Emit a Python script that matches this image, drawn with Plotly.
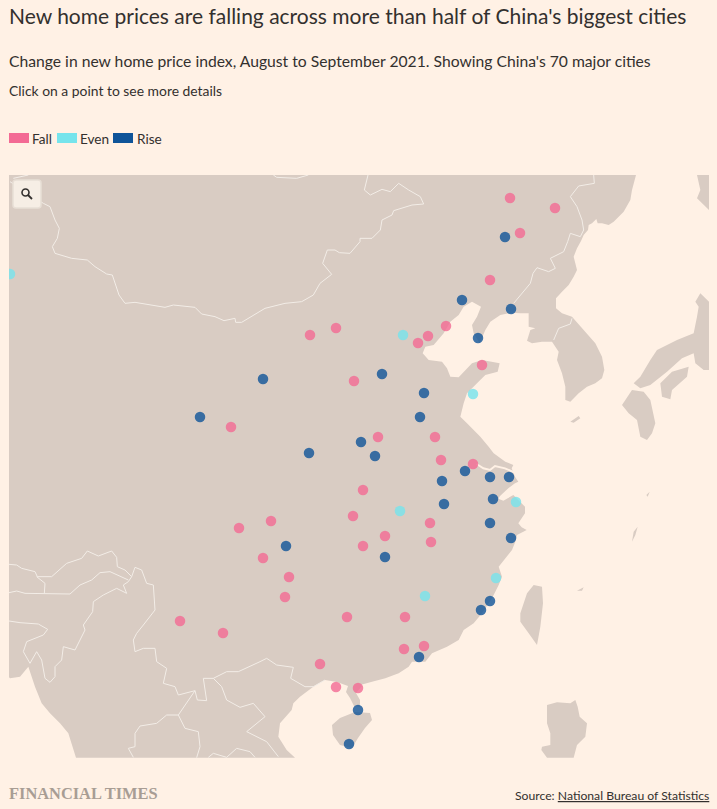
"""FT-style dot map: monthly change in new home prices, China's 70 major cities."""
import plotly.graph_objects as go

# city dots in page pixels
fall_x = [510, 555, 520, 490, 446, 428, 418, 482, 378, 435, 441, 473, 354, 310, 336, 231, 239, 271,
          353, 263, 289, 285, 180, 223, 347, 320, 336, 358, 363, 430, 385, 363, 431, 405, 404, 424]
fall_y = [198, 208, 233, 280, 326, 336, 343, 365, 437, 437, 460, 464, 381, 335, 328, 427, 528, 521,
          516, 558, 577, 597, 621, 633, 617, 664, 687, 688, 490, 523, 536, 546, 542, 617, 649, 646]
even_x = [403, 473, 10, 400, 516, 496, 425]
even_y = [335, 394, 274, 511, 502, 578, 596]
rise_x = [505, 462, 511, 478, 382, 424, 420, 361, 375, 465, 263, 200, 309, 286,
          358, 349, 442, 490, 509, 493, 444, 490, 511, 385, 490, 481, 419]
rise_y = [237, 300, 309, 338, 374, 393, 417, 442, 456, 471, 379, 417, 453, 546,
          710, 744, 481, 477, 477, 499, 504, 523, 538, 557, 601, 610, 657]

legend_labels = ["Fall", "Even", "Rise"]
legend_colors = ["#f36a94", "#76e4ec", "#0f5499"]

PAPER = "#fff1e5"
LAND = "#d9ccc3"
BORDER = "#f3ede7"
INK = "#33302e"
FONT = "Lato"
WIDTH, HEIGHT = 717, 809


def crop(points, dx, dy):
    # outlines were traced on 3x zoomed crops, this brings them back to page pixels
    return [(dx + x / 3, dy + y / 3) for x, y in points]


NE = (357, 170)
DELTA = (450, 440)
SE = (357, 470)
W = (0, 470)
NW = (0, 170)

mainland = (
    [(9, 175), (636, 175)]
    + crop([(825, 60), (820, 90), (800, 125), (770, 155), (755, 165), (735, 160), (722, 160), (718, 147),
            (705, 160), (695, 165), (693, 180), (680, 195), (672, 213), (660, 235), (650, 260), (655, 285),
            (660, 300), (650, 320), (635, 345), (615, 365), (597, 385), (597, 415), (615, 430), (645, 440),
            (680, 480), (715, 520), (735, 560), (742, 600), (735, 625), (715, 640), (690, 650), (665, 670),
            (640, 695), (625, 690), (625, 650), (615, 610), (600, 570), (605, 545), (585, 515), (555, 515),
            (525, 520), (510, 512), (520, 480), (535, 475), (515, 470), (515, 430), (490, 430), (465, 428),
            (430, 435), (400, 455), (385, 480), (368, 520), (350, 490), (345, 465), (360, 440), (372, 410),
            (345, 395), (320, 410), (305, 435), (280, 455), (260, 490), (230, 525), (205, 530), (197, 550),
            (215, 570), (255, 575), (270, 595), (280, 620), (305, 622), (325, 600), (345, 580), (375, 570),
            (400, 575), (428, 580), (422, 605), (385, 615), (360, 640), (330, 670), (320, 700), (310, 740),
            (330, 760), (370, 800), (395, 830), (410, 850), (445, 875)], *NE)
    + crop([(190, 75), (185, 85), (195, 110), (205, 125), (195, 130), (175, 145), (150, 168), (145, 176),
            (160, 182), (190, 165), (205, 180), (225, 200), (225, 220), (215, 235), (205, 250), (215, 262),
            (230, 270)], *DELTA)
    + crop([(480, 195), (475, 215), (465, 240), (440, 270), (425, 290), (435, 320), (425, 345), (405, 385),
            (375, 430), (350, 460), (320, 480), (305, 510), (270, 530), (225, 550), (205, 575), (165, 575),
            (155, 590), (125, 610), (85, 625), (45, 635), (10, 645)], *SE)
    + [(362, 686), (356, 693), (360, 700), (360, 707), (354, 706), (350, 698), (346, 692), (348, 686),
       (337, 682), (325, 680)]
    + crop([(940, 650), (900, 680), (880, 700), (875, 720), (840, 760), (835, 800), (860, 840), (885, 863),
            (228, 863), (205, 790), (180, 760), (150, 730), (125, 700), (105, 650), (85, 590), (60, 620),
            (30, 625), (27, 622)], *W)
)

islands = [
    [(332, 725), (340, 718), (355, 712), (370, 713), (372, 720), (365, 728), (358, 738), (352, 748),
     (340, 745), (333, 735)],
    crop([(510, 370), (530, 345), (555, 350), (558, 400), (550, 470), (540, 525), (515, 490), (490, 455),
          (490, 430)], *SE),
    crop([(570, 705), (600, 697), (640, 700), (655, 690), (662, 710), (668, 740), (690, 760), (685, 800),
          (660, 825), (650, 863), (570, 863), (553, 840), (555, 830), (580, 825), (580, 790), (570, 760)], *SE),
    crop([(825, 215), (830, 185), (842, 170), (835, 195)], *SE),
    crop([(868, 75), (878, 65), (872, 80)], *SE),
    crop([(660, 362), (680, 352), (675, 362)], *SE),
    # Japan and Jeju
    crop([(1020, 15), (1056, 15), (1056, 120), (1040, 105), (1020, 85), (1030, 60)], *NE),
    crop([(1056, 395), (1030, 370), (1015, 395), (1025, 410), (1020, 440), (1010, 490), (960, 510), (900, 540),
          (880, 570), (850, 620), (830, 640), (850, 655), (880, 645), (900, 630), (930, 605), (975, 565),
          (1010, 550), (1015, 580), (1040, 600), (1056, 600)], *NE),
    crop([(910, 640), (945, 605), (995, 590), (990, 620), (945, 660), (940, 688), (915, 680)], *NE),
    crop([(825, 660), (860, 665), (880, 690), (895, 760), (885, 790), (870, 810), (850, 800), (840, 750),
          (815, 730), (795, 705)], *NE),
    crop([(640, 755), (665, 738), (670, 745), (650, 758)], *NE),
]

borders = [
    crop([(30, 35), (60, 55), (130, 100), (150, 110), (165, 150), (178, 175), (172, 205), (157, 230), (165, 250),
          (215, 265), (262, 270), (285, 290), (320, 312), (337, 315), (345, 340), (357, 375), (375, 400),
          (405, 397), (495, 412), (520, 405), (585, 412), (605, 432), (645, 440), (672, 452), (705, 445),
          (707, 457), (725, 457), (795, 415), (855, 400), (905, 395), (940, 375), (960, 340), (995, 313),
          (968, 280), (982, 240), (1005, 240), (1018, 248), (1050, 250), (1080, 215)], *NW)
    + crop([(9, 205), (45, 205), (70, 180), (75, 150), (105, 135), (110, 122), (165, 105), (200, 102), (190, 80),
            (155, 60), (125, 40), (100, 65), (75, 58), (40, 75), (22, 60), (33, 15)], *NE),
    crop([(820, 15), (830, 22), (890, 25), (925, 15)], *NW),
    crop([(40, 25), (85, 15)], *NW),
    crop([(710, 15), (712, 40), (665, 48), (640, 80), (660, 110), (675, 150), (680, 180), (670, 200), (640, 190),
          (632, 215), (620, 245), (580, 265), (595, 295), (575, 305), (540, 293), (528, 310), (520, 340),
          (470, 400)], *NE),
    crop([(645, 445), (640, 462), (605, 475), (590, 510)], *NE),
    crop([(27, 283), (50, 285), (65, 295), (105, 305), (112, 320), (155, 320), (200, 280), (245, 265), (262, 243),
          (295, 258), (335, 243), (350, 262), (352, 290), (375, 300), (395, 320)], *W),
    crop([(110, 320), (135, 340), (133, 370)], *W),
    crop([(27, 368), (50, 363), (75, 370), (135, 370), (210, 372), (240, 345), (275, 330), (300, 308), (330, 305),
          (385, 330)], *W),
    crop([(395, 320), (385, 335), (370, 345), (380, 370), (350, 355), (310, 375), (280, 395), (278, 425), (250, 465),
          (255, 480), (225, 540), (190, 530), (185, 570), (165, 590), (165, 620), (150, 637), (135, 625), (125, 570),
          (110, 545), (90, 580), (70, 545), (80, 515), (130, 495), (143, 478), (115, 462), (60, 458), (27, 453)], *W),
    crop([(395, 320), (405, 292), (425, 300), (440, 340), (460, 345), (465, 420), (430, 465), (410, 490), (400, 510),
          (405, 545), (430, 535), (465, 535), (470, 575), (500, 595), (490, 640), (525, 650), (535, 675), (585, 662),
          (592, 690), (620, 692), (610, 625), (640, 625), (680, 605), (715, 605), (780, 575), (800, 565), (830, 585),
          (880, 592), (872, 625), (915, 650), (940, 650), (975, 630)], *W),
    crop([(640, 625), (665, 650), (680, 690), (720, 712), (760, 700), (795, 740), (740, 785), (800, 815),
          (835, 860)], *W),
    crop([(585, 662), (560, 700), (535, 735), (500, 735), (470, 760), (420, 768), (405, 790), (405, 830), (385, 835),
          (400, 862)], *W),
    crop([(535, 735), (555, 775), (595, 785), (600, 830), (590, 863)], *W),
    crop([(625, 862), (640, 850), (680, 862), (710, 835), (750, 845), (765, 862)], *W),
]

yangtze = crop([(80, 72), (100, 85), (120, 90), (135, 78), (165, 85), (195, 98)], *DELTA)


def joined(paths):
    # one trace per style, gaps between the paths
    xs, ys = [], []
    for path in paths:
        xs += [p[0] for p in path] + [None]
        ys += [p[1] for p in path] + [None]
    return xs, ys


def px(x):
    return x / WIDTH


def py(y):
    # paper y from a page pixel, measured from the top
    return 1 - y / HEIGHT


def text(x, y, label, size, color=INK, anchor="left", family=FONT):
    fig.add_annotation(x=px(x), y=py(y), xref="paper", yref="paper", text=label, showarrow=False,
                       xanchor=anchor, yanchor="middle", borderpad=0, borderwidth=0,
                       font=dict(family=family, size=size, color=color))


fig = go.Figure()

land_x, land_y = joined([mainland] + islands)
fig.add_trace(go.Scatter(x=land_x, y=land_y, mode="lines", fill="toself", fillcolor=LAND,
                         line=dict(width=0), hoverinfo="skip"))
border_x, border_y = joined(borders)
fig.add_trace(go.Scatter(x=border_x, y=border_y, mode="lines", line=dict(color=BORDER, width=1),
                         hoverinfo="skip"))
river_x, river_y = joined([yangtze])
fig.add_trace(go.Scatter(x=river_x, y=river_y, mode="lines", line=dict(color=PAPER, width=2),
                         hoverinfo="skip"))

for label, color, xs, ys in zip(legend_labels, legend_colors, [fall_x, even_x, rise_x], [fall_y, even_y, rise_y]):
    fig.add_trace(go.Scatter(x=xs, y=ys, mode="markers", name=label,
                             marker=dict(size=10.5, color=color, opacity=0.8, line=dict(width=0))))

# header and footer
text(9, 16, "New home prices are falling across more than half of China's biggest cities", 21)
text(9, 61, "Change in new home price index, August to September 2021. Showing China's 70 major cities", 15.7)
text(9, 90, "Click on a point to see more details", 13.9)
text(9, 793, "<b>FINANCIAL TIMES</b>", 16.4, color="#a89d94", family="Liberation Serif")
text(709, 795, "Source: <u>National Bureau of Statistics</u>", 12.2, anchor="right")

# legend keys
shapes = []
for x0, x1, color in zip([9, 57, 113], [29, 77, 133], legend_colors):
    shapes.append(dict(type="rect", xref="paper", yref="paper", x0=px(x0), x1=px(x1), y0=py(143), y1=py(133),
                       fillcolor=color, line=dict(width=0), layer="above"))
for x, label in zip([32, 80, 137], legend_labels):
    text(x, 139, label, 13.6)

# zoom button in the map's corner
shapes.append(dict(type="path", xref="x", yref="y",
                   path="M 16,180 L 38,180 Q 41,180 41,183 L 41,205 Q 41,208 38,208 L 16,208 "
                        "Q 13,208 13,205 L 13,183 Q 13,180 16,180 Z",
                   fillcolor="#f6eee5", line=dict(color="#e8dfd6", width=1.5), layer="above"))
shapes.append(dict(type="circle", xref="x", yref="y", x0=22, x1=29, y0=189, y1=196,
                   fillcolor="rgba(0,0,0,0)", line=dict(color=INK, width=1.6), layer="above"))
shapes.append(dict(type="line", xref="x", yref="y", x0=28, x1=32, y0=195, y1=199,
                   line=dict(color=INK, width=1.8), layer="above"))

fig.update_layout(
    width=WIDTH, height=HEIGHT, autosize=False,
    margin=dict(l=0, r=0, t=0, b=0, pad=0),
    paper_bgcolor=PAPER, plot_bgcolor=PAPER,
    showlegend=False, shapes=shapes,
    xaxis=dict(domain=[px(9), px(709)], range=[9, 709], visible=False, fixedrange=True),
    yaxis=dict(domain=[py(758), py(175)], range=[758, 175], visible=False, fixedrange=True),
)

fig.write_html("out.html", config=dict(displayModeBar=False),
               post_script="document.body.style.margin='0';")
